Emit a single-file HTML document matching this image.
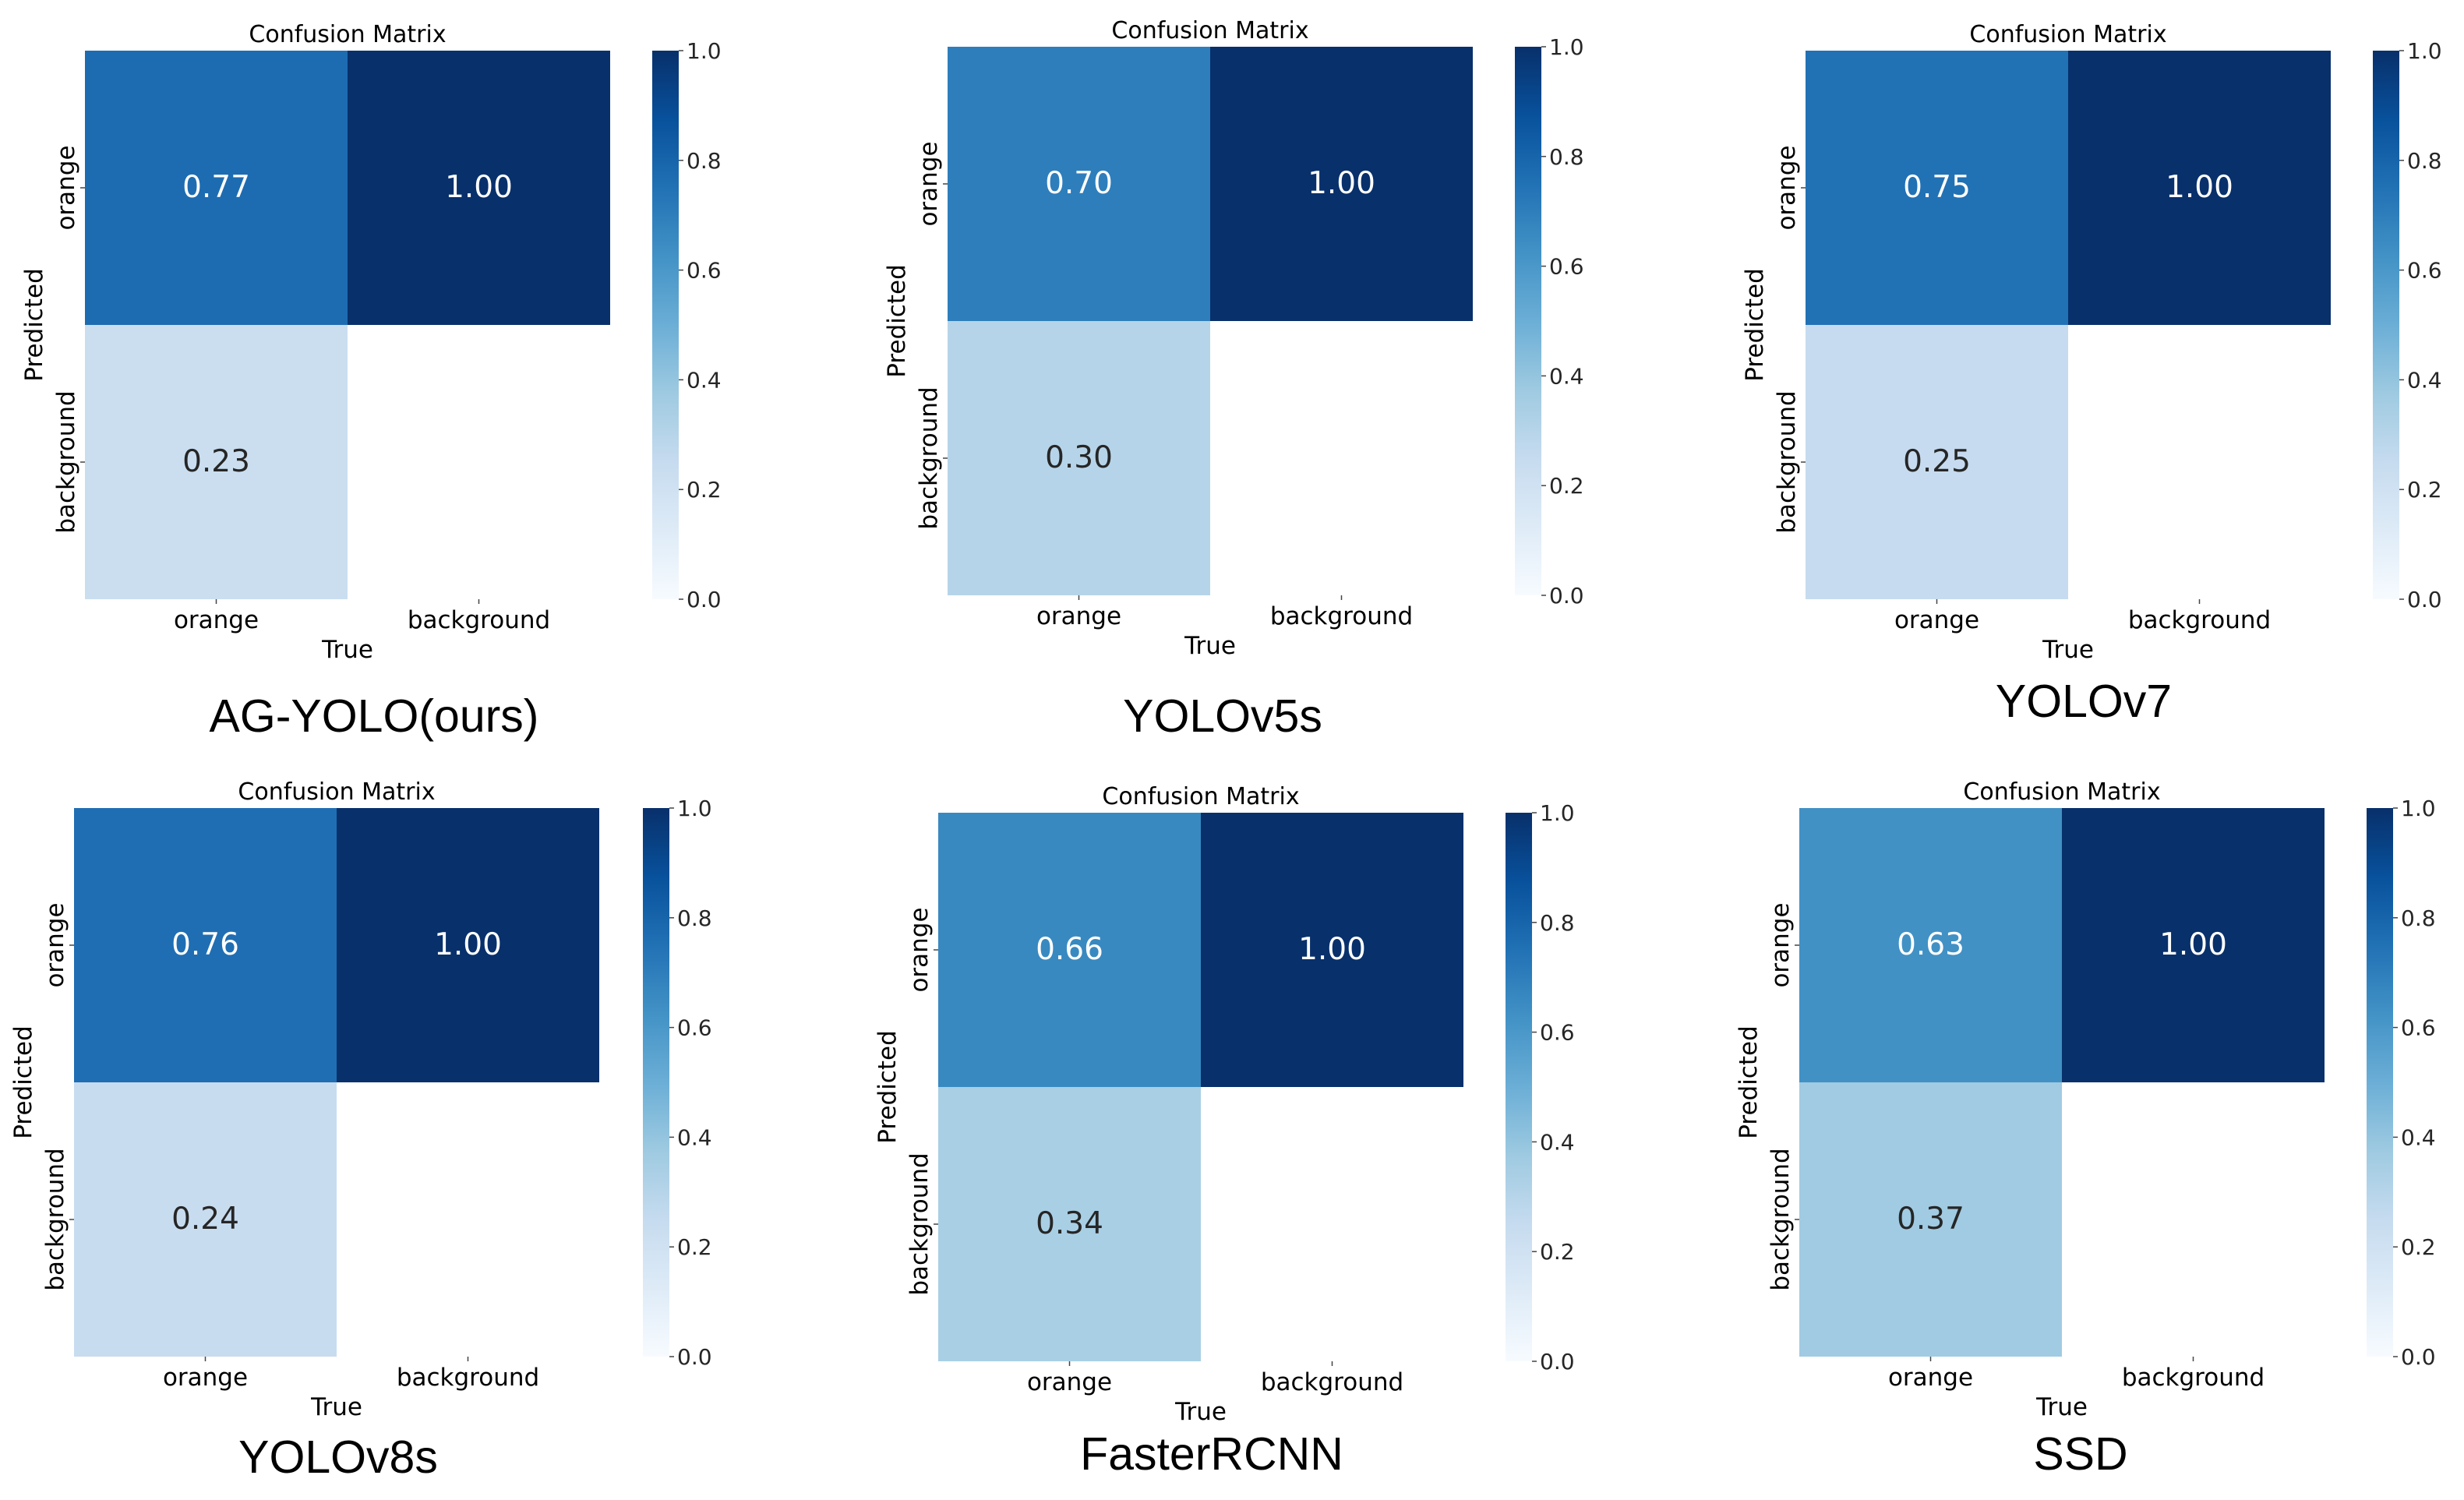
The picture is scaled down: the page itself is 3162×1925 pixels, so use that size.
<!DOCTYPE html>
<html><head><meta charset="utf-8"><style>
html,body{margin:0;padding:0;background:#fff;}
svg{display:block;}
</style></head><body>
<svg id="fig" width="3162" height="1925" viewBox="0 0 3162 1925" xmlns="http://www.w3.org/2000/svg"></svg>
<script>
const modelNames = ["AG-YOLO(ours)","YOLOv5s","YOLOv7","YOLOv8s","FasterRCNN","SSD"];
const categories = ["orange","background"];
const orangeOrange = [0.77,0.70,0.75,0.76,0.66,0.63];
const backgroundOrange = [0.23,0.30,0.25,0.24,0.34,0.37];
const orangeBackground = [1.00,1.00,1.00,1.00,1.00,1.00];
const cbarTicks = [0.0,0.2,0.4,0.6,0.8,1.0];

const layouts = [
  {x:109,y:65,cb:837,cap:[480,918]},
  {x:1216,y:60,cb:1944,cap:[1569,918]},
  {x:2317,y:65,cb:3045,cap:[2674,899]},
  {x:95,y:1037,cb:825,cap:[434,1869]},
  {x:1204,y:1043,cb:1932,cap:[1555,1865]},
  {x:2309,y:1037,cb:3037,cap:[2670,1865]}
];
const W=674,H=704,CBW=34;
const stops=[[0,"#f7fbff"],[.125,"#deebf7"],[.25,"#c6dbef"],[.375,"#9ecae1"],[.5,"#6baed6"],[.625,"#4292c6"],[.75,"#2171b5"],[.875,"#08519c"],[1,"#08306b"]];
function hex(h){return [1,3,5].map(i=>parseInt(h.substr(i,2),16));}
function blues(v){
  for(let i=0;i<stops.length-1;i++){
    if(v<=stops[i+1][0]){const t=(v-stops[i][0])/(stops[i+1][0]-stops[i][0]);
      const a=hex(stops[i][1]),b=hex(stops[i+1][1]);
      return "rgb("+a.map((c,k)=>Math.round(c+(b[k]-c)*t)).join(",")+")";}
  }
  return stops[stops.length-1][1];
}
const NS="http://www.w3.org/2000/svg";
const svg=document.getElementById("fig");
function el(tag,attrs,parent,text){const e=document.createElementNS(NS,tag);for(const k in attrs)e.setAttribute(k,attrs[k]);if(text!==undefined)e.textContent=text;(parent||svg).appendChild(e);return e;}
const defs=el("defs",{});
const grad=el("linearGradient",{id:"bluesGrad",x1:"0",y1:"1",x2:"0",y2:"0"},defs);
stops.forEach(s=>el("stop",{offset:s[0],"stop-color":s[1]},grad));
const F='"DejaVu Sans","Liberation Sans",sans-serif';

modelNames.forEach((name,m)=>{
  const L=layouts[m];
  const g=el("g",{});
  
  
  const cw=W/categories.length,ch=H/categories.length;
  const xS=i=>L.x+i*cw, yS=j=>L.y+j*ch;
  const cells=[[0,0,orangeOrange[m]],[1,0,orangeBackground[m]],[0,1,backgroundOrange[m]]];
  cells.forEach(c=>{
    const r=el("rect",{x:xS(c[0]),y:yS(c[1]),width:cw,height:ch,fill:blues(c[2])},g);
    
    
    const t=el("text",{x:xS(c[0])+cw/2,y:yS(c[1])+ch/2+12,"text-anchor":"middle","font-size":39,"font-family":F,fill:c[2]>0.5?"#fff":"#262626"},g,c[2].toFixed(2));
    
    
  });
  const ti=el("text",{x:L.x+W/2,y:L.y-11,"text-anchor":"middle","font-size":30,"font-family":F,fill:"#000"},g,"Confusion Matrix");
  
  
  categories.forEach((c,i)=>{
    el("line",{x1:xS(i)+cw/2,x2:xS(i)+cw/2,y1:L.y+H,y2:L.y+H+6,stroke:"#444","stroke-width":1.5},g);
    const xt=el("text",{x:xS(i)+cw/2,y:L.y+H+37,"text-anchor":"middle","font-size":31,"font-family":F,fill:"#000"},g,c);
    
    
    const cy=yS(i)+ch/2;
    el("line",{x1:L.x-6,x2:L.x,y1:cy,y2:cy,stroke:"#444","stroke-width":1.5},g);
    const yt=el("text",{x:0,y:0,"text-anchor":"middle","font-size":31,"font-family":F,fill:"#000",transform:"translate("+(L.x-14)+","+cy+") rotate(-90)"},g,c);
    
    
  });
  const xl=el("text",{x:L.x+W/2,y:L.y+H+75,"text-anchor":"middle","font-size":31,"font-family":F,fill:"#000"},g,"True");
  
  
  const yl=el("text",{x:0,y:0,"text-anchor":"middle","font-size":31,"font-family":F,fill:"#000",transform:"translate("+(L.x-55)+","+(L.y+H/2)+") rotate(-90)"},g,"Predicted");
  
  
  const cb=el("rect",{x:L.cb,y:L.y,width:CBW,height:H,fill:"url(#bluesGrad)"},g);
  
  
  cbarTicks.forEach(v=>{
    const ty=L.y+H-v*H;
    el("line",{x1:L.cb+CBW,x2:L.cb+CBW+6,y1:ty,y2:ty,stroke:"#444","stroke-width":1.5},g);
    const ct=el("text",{x:L.cb+CBW+10,y:ty+10,"font-size":28,"font-family":F,fill:"#262626"},g,v.toFixed(1));
    
    
  });
  const cap=el("text",{x:L.cap[0],y:L.cap[1]+21,"text-anchor":"middle","font-size":59,"font-family":'"Liberation Sans",sans-serif',fill:"#000"},g,name);
  
  
});
</script>
</body></html>
